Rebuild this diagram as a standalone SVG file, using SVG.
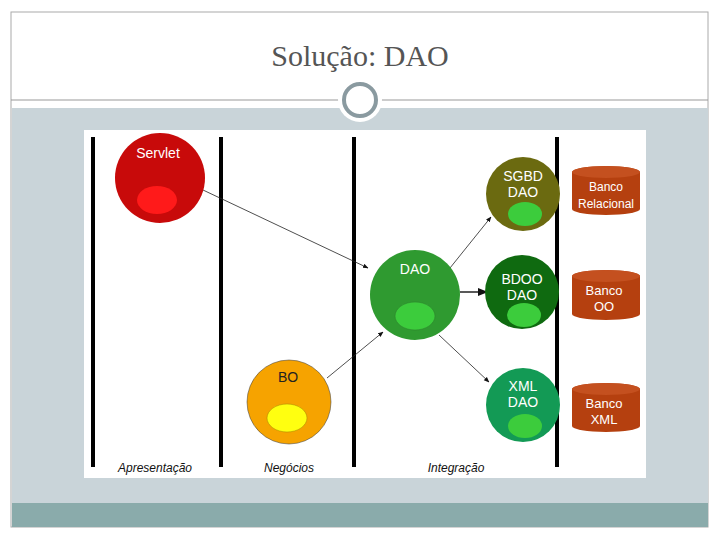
<svg xmlns="http://www.w3.org/2000/svg" width="720" height="540" viewBox="0 0 720 540">
<defs>
<style>
.t{font-family:"Liberation Sans",Arial,sans-serif;font-size:14px;fill:#fff;text-anchor:middle}
.lab{font-family:"Liberation Sans",Arial,sans-serif;font-size:12px;font-style:italic;fill:#111;text-anchor:middle}
.v{stroke:#000;stroke-width:4}
.c{stroke:#222;stroke-width:0.8;fill:none;marker-end:url(#ah)}
</style>
<marker id="ah" viewBox="0 0 10 10" refX="9" refY="5" markerWidth="7" markerHeight="7" orient="auto"><path d="M0,1 L10,5 L0,9 z" fill="#111"/></marker>
</defs>
<rect x="0" y="0" width="720" height="540" fill="#fff"/>
<rect x="11" y="12" width="697" height="515" fill="#fff" stroke="#aaa"/>
<text x="360" y="66" font-family="Liberation Serif,serif" font-size="30" fill="#555" text-anchor="middle">Solução: DAO</text>
<rect x="12" y="108" width="696" height="395" fill="#c9d4d9"/>
<rect x="12" y="503" width="696" height="24" fill="#8aabab"/>
<line x1="11" y1="100" x2="708" y2="100" stroke="#999"/>
<circle cx="360" cy="100" r="22" fill="#fff"/>
<circle cx="360" cy="100" r="16" fill="#fff" stroke="#8a9aa0" stroke-width="4"/>
<rect x="84" y="130" width="562" height="348" fill="#fff"/>
<line class="v" x1="93" y1="137" x2="93" y2="467"/>
<line class="v" x1="221" y1="137" x2="221" y2="467"/>
<line class="v" x1="354" y1="137" x2="354" y2="467"/>
<line class="v" x1="557" y1="137" x2="557" y2="467"/>
<text class="lab" x="155" y="472">Apresentação</text>
<text class="lab" x="289" y="472">Negócios</text>
<text class="lab" x="456" y="472">Integração</text>
<g id="connectors">
<line class="c" x1="203" y1="190" x2="368" y2="268"/>
<line class="c" x1="327" y1="378" x2="383" y2="332"/>
<line class="c" x1="450" y1="268" x2="491" y2="217"/>
<line class="c" x1="460" y1="292" x2="487" y2="292" style="stroke-width:1.5"/>
<line class="c" x1="439" y1="335" x2="489" y2="382"/>
</g>
<g id="servlet"><circle cx="160" cy="178" r="45" fill="#c80a0a"/><ellipse cx="157" cy="200" rx="20" ry="14" fill="#ff1a1a"/><text class="t" x="158" y="158">Servlet</text></g>
<g id="bo"><circle cx="289" cy="402" r="42" fill="#f6a300" stroke="#333" stroke-width="0.5"/><ellipse cx="287" cy="418" rx="20" ry="14" fill="#ffff10" stroke="#a08000" stroke-width="0.5"/><text class="t" x="288" y="382" style="fill:#222">BO</text></g>
<g id="dao"><circle cx="415" cy="295" r="45" fill="#2f9a30"/><ellipse cx="415" cy="316" rx="20" ry="14" fill="#3ccc3c" stroke="#2a7a2a" stroke-width="0.5"/><text class="t" x="415" y="274">DAO</text></g>
<g id="sgbd"><circle cx="523" cy="194" r="37" fill="#6b6a10"/><ellipse cx="525" cy="214" rx="17" ry="12" fill="#3ccc3c"/><text class="t" x="523" y="181">SGBD</text><text class="t" x="523" y="197">DAO</text></g>
<g id="bdoo"><circle cx="522" cy="292" r="37" fill="#0f6a10"/><ellipse cx="524" cy="315" rx="17" ry="12" fill="#3ccc3c"/><text class="t" x="522" y="284">BDOO</text><text class="t" x="522" y="300">DAO</text></g>
<g id="xml"><circle cx="523" cy="405" r="37" fill="#139a55"/><ellipse cx="525" cy="426" rx="17" ry="12" fill="#3ccc3c"/><text class="t" x="523" y="391">XML</text><text class="t" x="523" y="407">DAO</text></g>
<g id="db1"><path d="M572,172 V209 A34,6 0 0 0 640,209 V172 A34,6 0 0 0 572,172 Z" fill="#b5400f"/><ellipse cx="606" cy="172" rx="34" ry="6" fill="#c4501f"/><text class="t" x="606" y="191" style="font-size:12px">Banco</text><text class="t" x="606" y="208" style="font-size:12px">Relacional</text></g>
<g id="db2"><path d="M572,276 V314 A34,6 0 0 0 640,314 V276 A34,6 0 0 0 572,276 Z" fill="#b5400f"/><ellipse cx="606" cy="276" rx="34" ry="6" fill="#c4501f"/><text class="t" x="604" y="295" style="font-size:13px">Banco</text><text class="t" x="604" y="311" style="font-size:13px">OO</text></g>
<g id="db3"><path d="M572,389 V426 A34,6 0 0 0 640,426 V389 A34,6 0 0 0 572,389 Z" fill="#b5400f"/><ellipse cx="606" cy="389" rx="34" ry="6" fill="#c4501f"/><text class="t" x="604" y="408" style="font-size:13px">Banco</text><text class="t" x="604" y="424" style="font-size:13px">XML</text></g>
</svg>
